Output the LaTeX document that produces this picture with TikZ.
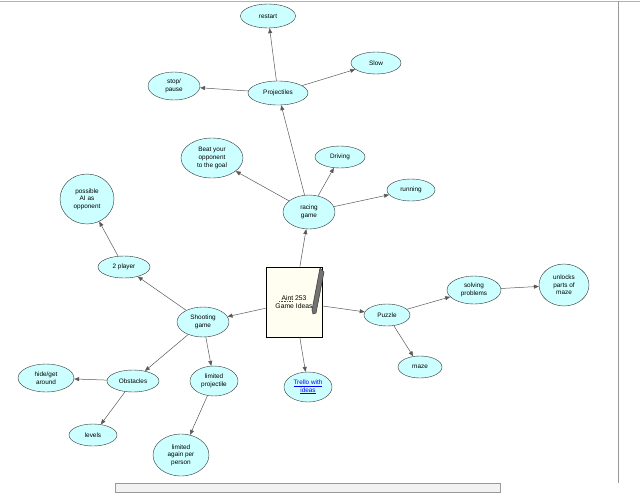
\documentclass[tikz,border=0pt]{standalone}
\usepackage{fontspec}
\setmainfont{Liberation Sans}
\usetikzlibrary{arrows.meta,shapes.geometric}
\definecolor{bub}{HTML}{CCFFFF}
\tikzset{
 bubble/.style={ellipse,draw=black!80,fill=bub,inner sep=1pt,font=\fontsize{6.4}{7.6}\selectfont,align=center},
 link/.style={-{Triangle[length=5pt,width=4pt]},draw=black!65,line width=0.5pt},
}
\begin{document}
\begin{tikzpicture}[x=1pt,y=-1pt]
\useasboundingbox (0,0) rectangle (640,496);
\draw[black!30] (0,1) -- (640,1);
\draw[black!40] (618,1) -- (618,483);
\draw[black!40,fill=black!5] (115,483) rectangle (500,492);
\node[bubble,minimum width=55,minimum height=24] (restart) at (268,16) {restart};
\node[bubble,minimum width=50,minimum height=22] (slow) at (376,63) {Slow};
\node[bubble,minimum width=52,minimum height=28] (stop) at (174,86) {stop/\\pause};
\node[bubble,minimum width=60,minimum height=24] (proj) at (278,93) {Projectiles};
\node[bubble,minimum width=62,minimum height=40] (beat) at (212,158) {Beat your\\opponent\\to the goal};
\node[bubble,minimum width=50,minimum height=22] (drive) at (340,157) {Driving};
\node[bubble,minimum width=48,minimum height=22] (run) at (411,190) {running};
\node[bubble,minimum width=52,minimum height=34] (race) at (309,212) {racing\\game};
\node[bubble,minimum width=54,minimum height=50] (ai) at (87,199) {possible\\AI as\\opponent};
\node[bubble,minimum width=52,minimum height=22] (two) at (124,267) {2 player};
\node[draw=black,line width=0.8pt,fill=yellow!6,minimum width=56,minimum height=70,font=\fontsize{6.8}{8.2}\selectfont,align=center] (c) at (294,302) {Aint 253\\Game Ideas};
\draw[red,densely dotted,line width=0.6pt] (279,301) -- (292,301);
\draw[black!75,fill=black!55,line width=0.6pt] (320,268) -- (324,272) -- (316,313) -- (313,314) -- (312,310) -- cycle;
\node[bubble,minimum width=52,minimum height=30] (shoot) at (203,322) {Shooting\\game};
\node[bubble,minimum width=46,minimum height=22] (puz) at (387,315) {Puzzle};
\node[bubble,minimum width=54,minimum height=28] (solve) at (474,290) {solving\\problems};
\node[bubble,minimum width=50,minimum height=42] (unl) at (564,285) {unlocks\\parts of\\maze};
\node[bubble,minimum width=44,minimum height=22] (maze) at (420,367) {maze};
\node[bubble,minimum width=56,minimum height=28] (hide) at (46,378) {hide/get\\around};
\node[bubble,minimum width=52,minimum height=22] (obs) at (133,381) {Obstacles};
\node[bubble,minimum width=48,minimum height=30] (lp) at (214,381) {limited\\projectile};
\node[bubble,minimum width=48,minimum height=30,text=blue] (trello) at (308,387) {\underline{Trello with}\\\underline{ideas}};
\node[bubble,minimum width=48,minimum height=22] (lev) at (93,435) {levels};
\node[bubble,minimum width=56,minimum height=42] (lap) at (181,455) {limited\\again per\\person};
\draw[link] (proj) -- (restart);
\draw[link] (proj) -- (slow);
\draw[link] (proj) -- (stop);
\draw[link] (race) -- (proj);
\draw[link] (race) -- (beat);
\draw[link] (race) -- (drive);
\draw[link] (race) -- (run);
\draw[link] (c) -- (race);
\draw[link] (c) -- (shoot);
\draw[link] (c) -- (puz);
\draw[link] (c) -- (trello);
\draw[link] (shoot) -- (two);
\draw[link] (two) -- (ai);
\draw[link] (shoot) -- (obs);
\draw[link] (shoot) -- (lp);
\draw[link] (obs) -- (hide);
\draw[link] (obs) -- (lev);
\draw[link] (lp) -- (lap);
\draw[link] (puz) -- (solve);
\draw[link] (solve) -- (unl);
\draw[link] (puz) -- (maze);
\end{tikzpicture}
\end{document}
